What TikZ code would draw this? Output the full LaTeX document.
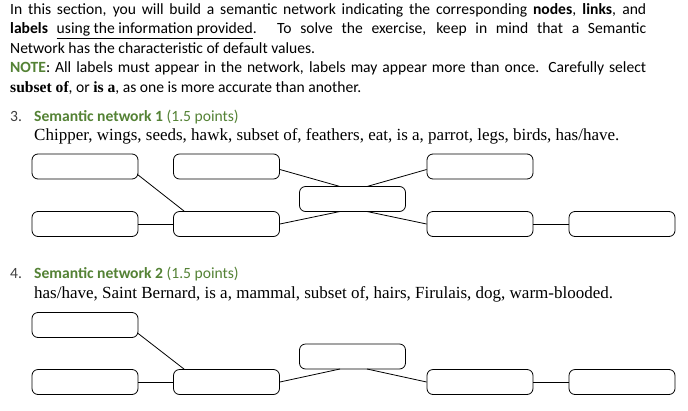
\documentclass[tikz,border=0pt]{standalone}
\usepackage{fontspec}
\setmainfont{Carlito}
\newfontfamily\serifcam{Liberation Serif}
\definecolor{hgreen}{RGB}{84,130,53}
\begin{document}
\begin{tikzpicture}[x=1pt,y=-1pt,
  bx/.style={draw,thick,rounded corners=6pt,minimum width=106pt,minimum height=25pt,inner sep=0pt},
  ln/.style={thick}]
\useasboundingbox[fill=white] (0,0) rectangle (688,410);
\node[anchor=north west,text width=636pt,align=justify,inner sep=0pt,font=\fontsize{15.6}{19.5}\selectfont] (para) at (10,3)
{In this section, you will build a semantic network indicating the corresponding \textbf{nodes}, \textbf{links}, and\linebreak \textbf{labels} \underline{using the information provided}. To solve the exercise, keep in mind that a Semantic\linebreak Network has the characteristic of default values.\par
\textcolor{hgreen}{\textbf{NOTE}}: All labels must appear in the network, labels may appear more than once. Carefully select {\serifcam\bfseries subset of}, or {\serifcam\bfseries is a}, as one is more accurate than another.};
\node[anchor=base west,inner sep=0pt,font=\fontsize{15.6}{18}\selectfont] (n3) at (10,121) {\textcolor{black!75}{3.}};
\node[anchor=base west,inner sep=0pt,font=\fontsize{15.6}{18}\selectfont] (h3) at (34,121) {\textcolor{hgreen}{\textbf{Semantic network 1}} \textcolor{hgreen}{(1.5 points)}};
\node[anchor=base west,inner sep=0pt,font=\serifcam\fontsize{17}{18}\selectfont] (l3) at (34,140) {Chipper, wings, seeds, hawk, subset of, feathers, eat, is a, parrot, legs, birds, has/have.};
\node[anchor=base west,inner sep=0pt,font=\fontsize{15.6}{18}\selectfont] (n4) at (10,278) {\textcolor{black!75}{4.}};
\node[anchor=base west,inner sep=0pt,font=\fontsize{15.6}{18}\selectfont] (h4) at (34,278) {\textcolor{hgreen}{\textbf{Semantic network 2}} \textcolor{hgreen}{(1.5 points)}};
\node[anchor=base west,inner sep=0pt,font=\serifcam\fontsize{17}{18}\selectfont] (l4) at (34,298) {has/have, Saint Bernard, is a, mammal, subset of, hairs, Firulais, dog, warm-blooded.};
% network 1
\node[bx] (a) at (85,166.5) {};
\node[bx] (b) at (226.5,166.5) {};
\node[bx] (c) at (480,166.5) {};
\node[bx] (f) at (352.5,199) {};
\node[bx] (d) at (85,224) {};
\node[bx] (e) at (226.5,224) {};
\node[bx] (g) at (480,224) {};
\node[bx] (h) at (622,224) {};
\coordinate (fbl) at (340,211.5);
\coordinate (fbr) at (367,211.5);
\coordinate (ftl) at (340,186.5);
\coordinate (ftr) at (367,186.5);
\draw[ln] (a.south east) ++(-1,-5) -- ([xshift=11pt]e.north west);
\draw[ln] (d) -- (e);
\draw[ln] (g) -- (h);
\draw[ln] (e.east) -- (fbl);
\draw[ln] (fbr) -- (g.west);
\draw[ln] ([yshift=-3pt]b.east) -- (ftl);
\draw[ln] (ftr) -- ([yshift=-3pt]c.west);
% network 2
\node[bx] (a2) at (85,325) {};
\node[bx] (f2) at (352.5,356.5) {};
\node[bx] (d2) at (85,382) {};
\node[bx] (e2) at (226.5,382) {};
\node[bx] (g2) at (480,382) {};
\node[bx] (h2) at (622,382) {};
\coordinate (gbl) at (340,369);
\coordinate (gbr) at (367,369);
\draw[ln] (a2.south east) ++(-1,-5) -- ([xshift=11pt]e2.north west);
\draw[ln] (d2) -- (e2);
\draw[ln] (g2) -- (h2);
\draw[ln] (e2.east) -- (gbl);
\draw[ln] (gbr) -- (g2.west);
\end{tikzpicture}
\end{document}
